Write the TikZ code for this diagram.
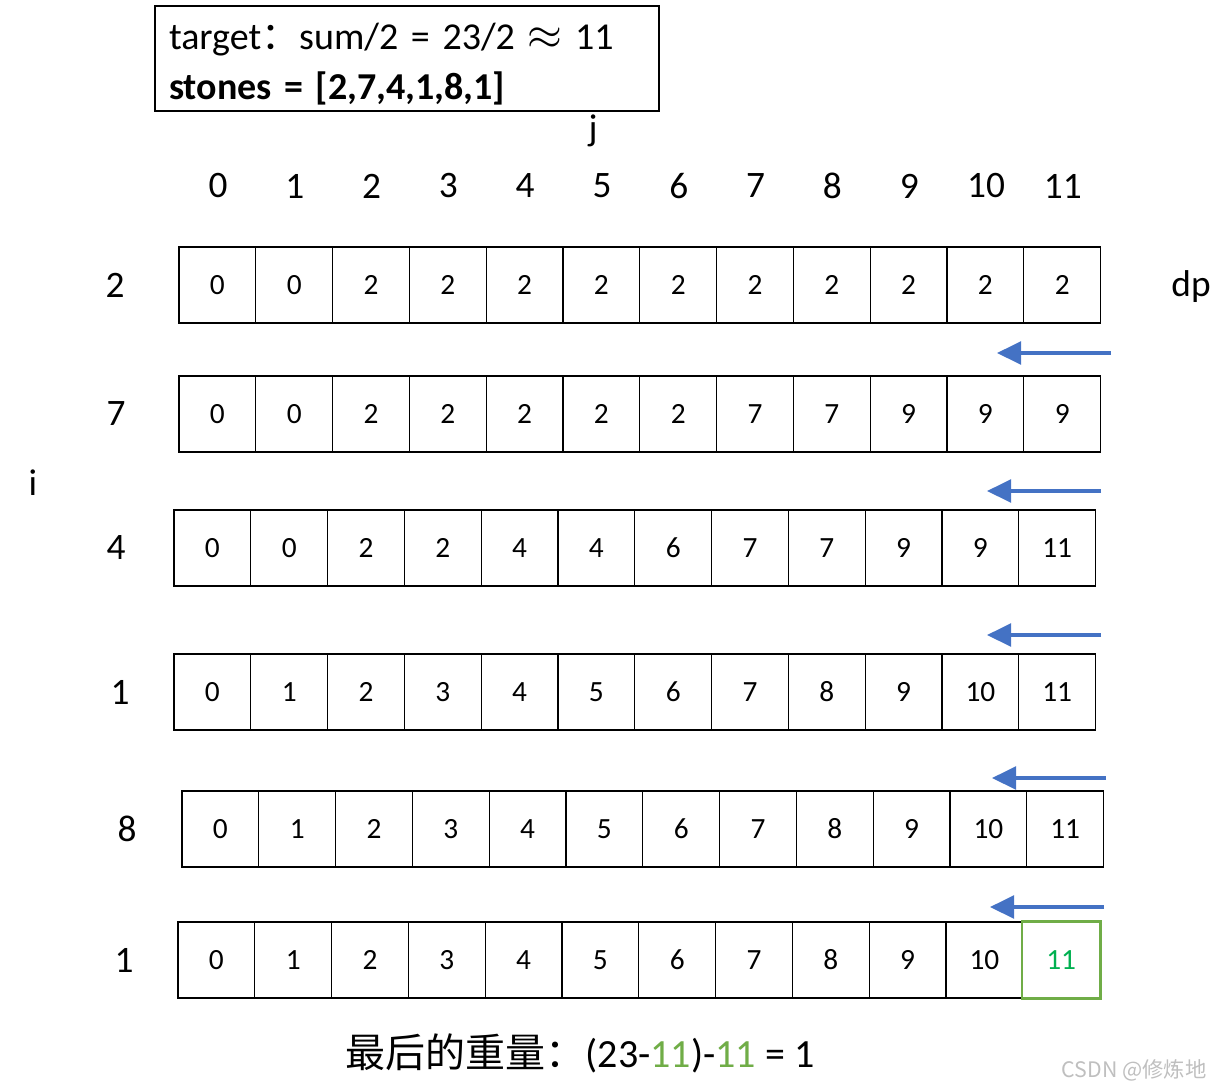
\documentclass[tikz,border=0pt]{standalone}
\usepackage{fontspec}
\setmainfont{Carlito}
\newfontfamily\cjk{Noto Sans CJK SC}
\usepackage{xcolor}
\usepackage{graphicx}
\usepackage{tikz}
\usetikzlibrary{arrows.meta,positioning,calc}
\definecolor{flowblue}{HTML}{4472C4}
\definecolor{okgreen}{HTML}{70AD47}
\definecolor{numgreen}{HTML}{00B050}

\begin{document}
\begin{tikzpicture}[x=0.75pt, y=-0.75pt,
    cell/.style={draw, rectangle, line width=1pt, minimum width=57.6pt, minimum height=57pt, inner sep=0pt, font=\fontsize{22}{26}\selectfont},
    lbl/.style={inner sep=0pt, font=\fontsize{28}{32}\selectfont},
    flow/.style={-{Triangle[length=18pt,width=17pt]}, line width=2.6pt, flowblue}]
    \useasboundingbox (0,0) rectangle (1217,1089);

    % info box
    \node[draw, line width=1pt, minimum width=378pt, minimum height=78.75pt] (info) at (407,58.5) {};
    \node[text width=357pt, inner sep=0pt, align=left, font=\fontsize{28.5}{37.5}\selectfont] (infotext) at ([yshift=-4.5pt]info.center)
        {target{\cjk ：}sum/2 = 23/2 \scalebox{1.35}{$\approx$} 11\\\textbf{stones = [2,7,4,1,8,1]}};

    % axes
    \node[lbl] (jlab) at (593,131) {j};
    \node[lbl] (ilab) at (33,483) {i};
    \node[lbl] (dplab) at (1191,287) {dp};
    \foreach \v [count=\c from 0] in {0,...,11}
        \node[lbl] (h\v) at ({218+76.8*\c},186) {\v};

    % dp rows
    \foreach \r/\x/\y/\lx/\st/\vals in {
        1/179/285/115/2/{0,0,2,2,2,2,2,2,2,2,2,2},
        2/179/414/116/7/{0,0,2,2,2,2,2,7,7,9,9,9},
        3/174/548/116/4/{0,0,2,2,4,4,6,7,7,9,9,11},
        4/174/692/120/1/{0,1,2,3,4,5,6,7,8,9,10,11},
        5/182/829/127/8/{0,1,2,3,4,5,6,7,8,9,10,11},
        6/178/960/124/1/{0,1,2,3,4,5,6,7,8,9,10,\textcolor{numgreen}{11}}} {
        \node[lbl] (s\r) at (\lx,\y) {\st};
        \foreach \v [count=\c from 0] in \vals
            \node[cell] (r\r-\c) at ({\x+76.8*\c+38.4},\y) {\v};
    }
    \draw[okgreen, line width=2pt] (r6-11.north west) rectangle (r6-11.south east);

    % arrows
    \coordinate (a1s) at (1111,353); \coordinate (a1e) at (997,353);
    \coordinate (a2s) at (1101,491); \coordinate (a2e) at (987,491);
    \coordinate (a3s) at (1101,635); \coordinate (a3e) at (987,635);
    \coordinate (a4s) at (1106,778); \coordinate (a4e) at (992,778);
    \coordinate (a5s) at (1104,907); \coordinate (a5e) at (990,907);
    \foreach \k in {1,...,5}
        \draw[flow] (a\k s) -- (a\k e);

    % result
    \node[inner sep=0pt, font=\fontsize{30}{34}\selectfont] (result) at (580,1053)
        {{\cjk 最后的重量：}(23-\textcolor{okgreen}{11})-\textcolor{okgreen}{11} = 1};
    \node[inner sep=0pt, text=black!25, font=\cjk\fontsize{16}{18}\selectfont] (mark) at (1134,1070) {CSDN @修炼地};
\end{tikzpicture}
\end{document}
